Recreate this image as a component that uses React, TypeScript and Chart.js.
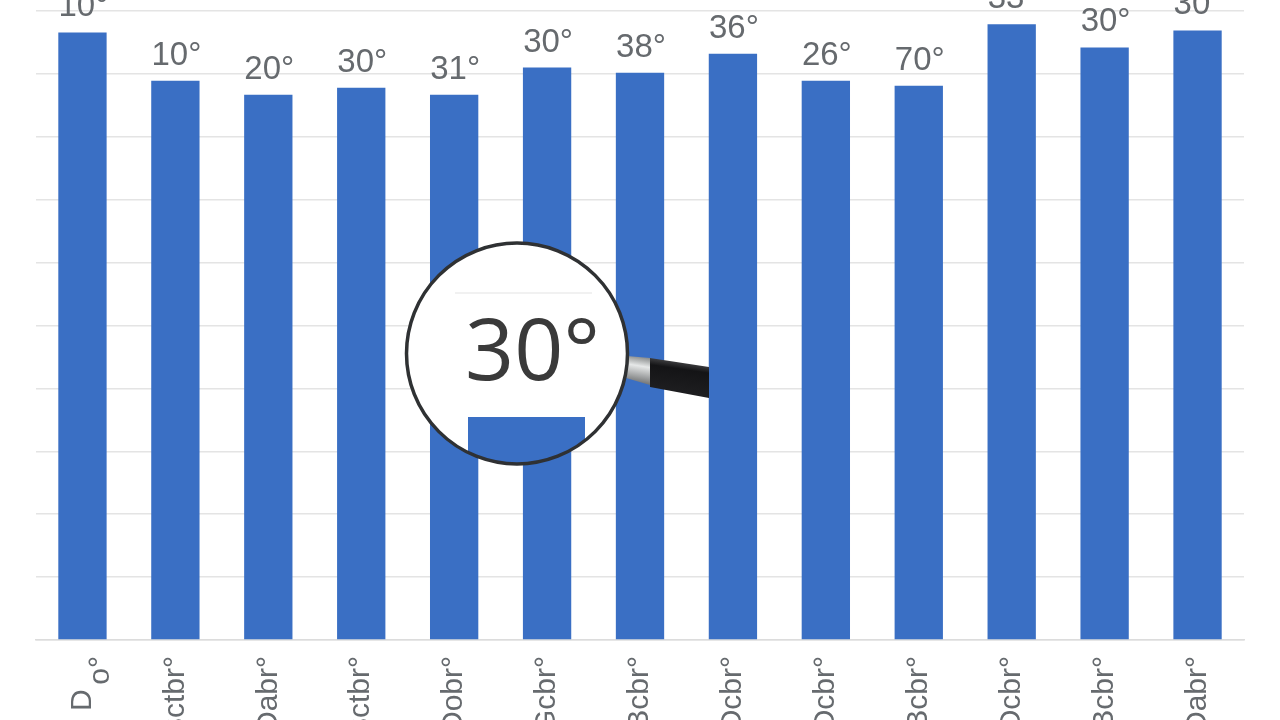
import React, { useEffect, useRef } from "react";
import { Chart, registerables } from "chart.js";

Chart.register(...registerables);

const categories: (string | string[])[] = [
  ["D\u00a0\u00a0\u00a0\u00a0", "o°"],
  "Sctbr°", "Dabr°", "Sctbr°", "Dobr°", "Gcbr°", "Bcbr°", "Dcbr°", "Dcbr°", "Bcbr°", "Dcbr°", "Bcbr°", "Dabr°",
];
const values = [96.6, 88.9, 86.7, 87.8, 86.7, 91, 90.2, 93.2, 88.9, 88.1, 97.9, 94.2, 96.9];
const valueLabels = ["10°", "10°", "20°", "30°", "31°", "30°", "38°", "36°", "26°", "70°", "33°", "30°", "30°"];
const lensLabel = "30°";

const TEXT = "#666a6e";
const BAR = "#3a6fc4";
const FONT = '"Liberation Sans", sans-serif';

const valueLabelPlugin = {
  id: "valueLabels",
  afterDatasetsDraw(chart: any) {
    const { ctx } = chart;
    const meta = chart.getDatasetMeta(0);
    ctx.save();
    ctx.fillStyle = TEXT;
    ctx.font = `33px ${FONT}`;
    ctx.textAlign = "center";
    ctx.textBaseline = "alphabetic";
    meta.data.forEach((bar: any, i: number) => {
      ctx.fillText(valueLabels[i], bar.x + 1, bar.y - 16);
    });
    ctx.restore();
  },
};

const magnifierPlugin = {
  id: "magnifier",
  afterDraw(chart: any) {
    const { ctx } = chart;
    const cx = 517, cy = 353.5, r = 110.5;
    ctx.save();
    // handle
    const grip = ctx.createLinearGradient(680, 360, 675, 395);
    grip.addColorStop(0, "#4a4a4c");
    grip.addColorStop(0.25, "#141416");
    grip.addColorStop(1, "#1f1f21");
    ctx.fillStyle = grip;
    ctx.beginPath();
    ctx.moveTo(650, 358);
    ctx.lineTo(709, 367);
    ctx.lineTo(709, 398);
    ctx.lineTo(650, 387);
    ctx.closePath();
    ctx.fill();
    const metal = ctx.createLinearGradient(640, 357, 636, 382);
    metal.addColorStop(0, "#8d9090");
    metal.addColorStop(0.35, "#e6e8e8");
    metal.addColorStop(1, "#77797a");
    ctx.fillStyle = metal;
    ctx.beginPath();
    ctx.moveTo(627, 356);
    ctx.lineTo(650, 358);
    ctx.lineTo(650, 385);
    ctx.lineTo(626, 378);
    ctx.closePath();
    ctx.fill();
    // lens
    ctx.beginPath();
    ctx.arc(cx, cy, r, 0, Math.PI * 2);
    ctx.fillStyle = "#ffffff";
    ctx.fill();
    ctx.save();
    ctx.clip();
    ctx.strokeStyle = "#ececec";
    ctx.lineWidth = 1.5;
    ctx.beginPath();
    ctx.moveTo(455, 293);
    ctx.lineTo(592, 293);
    ctx.stroke();
    ctx.fillStyle = BAR;
    ctx.fillRect(468, 417, 117, 60);
    ctx.restore();
    ctx.beginPath();
    ctx.arc(cx, cy, r, 0, Math.PI * 2);
    ctx.strokeStyle = "#2f3133";
    ctx.lineWidth = 3.5;
    ctx.stroke();
    // text
    ctx.fillStyle = "#3a3a3a";
    ctx.font = '86px "Open Sans", sans-serif';
    ctx.textAlign = "left";
    ctx.textBaseline = "alphabetic";
    ctx.fillText(lensLabel, 465, 380);
    ctx.restore();
  },
};

export default function App() {
  const ref = useRef<HTMLCanvasElement>(null);
  useEffect(() => {
    const chart = new Chart(ref.current!, {
      type: "bar",
      data: {
        labels: categories as any,
        datasets: [
          {
            data: values,
            backgroundColor: BAR,
            barPercentage: 0.52,
            categoryPercentage: 1,
          },
        ],
      },
      options: {
        responsive: false,
        animation: false,
        layout: { padding: { left: 36, right: 36, top: 11, bottom: 0 } },
        plugins: { legend: { display: false }, tooltip: { enabled: false } },
        scales: {
          x: {
            afterFit(scale: any) {
              scale.height = 80;
            },
            grid: { display: false, drawTicks: false },
            border: { display: true, color: "#dcdcdc", width: 1.5 },
            ticks: {
              autoSkip: false,
              minRotation: 90,
              maxRotation: 90,
              padding: 16,
              color: TEXT,
              font: { family: FONT, size: 30, lineHeight: 0.6 },
            },
          },
          y: {
            min: 0,
            max: 100,
            afterFit(scale: any) {
              scale.width = 0;
            },
            ticks: { display: false, stepSize: 10 },
            grid: { color: "#e4e4e4", lineWidth: 1.5, drawTicks: false },
            border: { display: false },
          },
        },
      },
      plugins: [valueLabelPlugin, magnifierPlugin],
    });
    return () => chart.destroy();
  }, []);
  return (
    <div style={{ position: "fixed", left: 0, top: 0, width: 1280, height: 720, background: "#fff", overflow: "hidden" }}>
      <canvas ref={ref} width={1280} height={720} style={{ display: "block" }} />
    </div>
  );
}
